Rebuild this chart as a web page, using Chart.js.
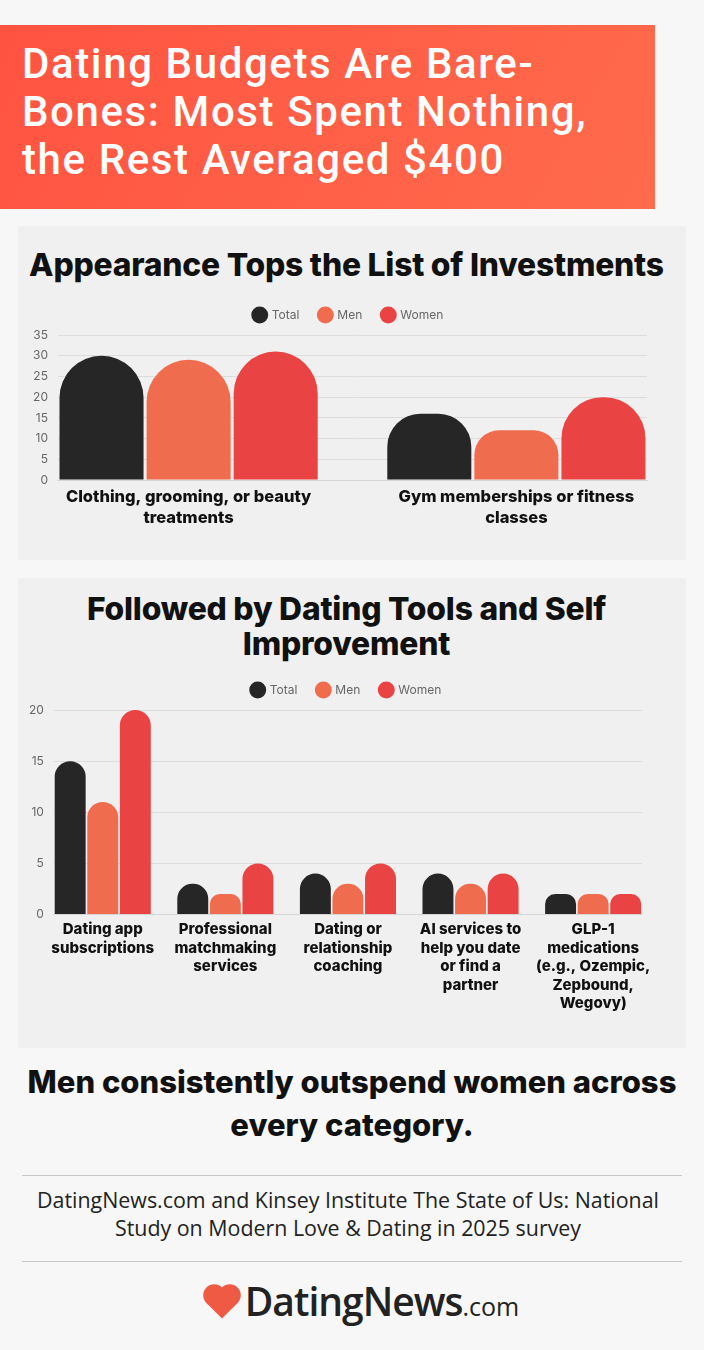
<!DOCTYPE html>
<html>
<head>
<meta charset="utf-8">
<script src="https://cdn.jsdelivr.net/npm/chart.js@4.4.1/dist/chart.umd.min.js"></script>
<style>
  body { margin: 0; width: 704px; height: 1350px; background: #f7f7f7; font-family: Inter, "Noto Sans", sans-serif; position: relative; overflow: hidden; }
  .header { position: absolute; left: 0; top: 25px; width: 655px; height: 184px; background: linear-gradient(120deg, #ff5341, #ff6b4c); }
  .header h1 { margin: 0; padding: 15px 0 0 22px; color: #fff; font-family: Roboto, sans-serif; font-weight: 500; font-size: 42px; line-height: 48px; letter-spacing: 1.6px; }
  .card { position: absolute; left: 18px; width: 668px; background: #f0f0f0; }
  .card h2 { margin: 0; padding-right: 11px; text-align: center; font-family: Inter, sans-serif; font-weight: 800; font-size: 31.8px; color: #111; letter-spacing: -0.2px; }
  .chartbox { position: absolute; left: 0; }
  .note { position: absolute; left: 0; width: 704px; top: 1060px; text-align: center; font-family: Inter, sans-serif; font-weight: 800; font-size: 31px; line-height: 43px; color: #111; }
  .rule { position: absolute; left: 22px; width: 660px; height: 1px; background: #c8c8c8; }
  .source { position: absolute; left: 0; width: 696px; top: 1186px; text-align: center; font-family: "Open Sans", sans-serif; font-size: 21.4px; line-height: 28px; color: #222; }
  .logo { position: absolute; left: 10px; width: 704px; top: 1274px; text-align: center; font-family: "Open Sans", sans-serif; font-size: 39px; font-weight: 600; color: #222; letter-spacing: -1px; }
  .logo small { font-size: 25px; font-weight: 400; letter-spacing: 0; }
  .heart { display: inline-block; width: 22px; height: 22px; background: #ef5a45; transform: rotate(-45deg); vertical-align: middle; margin: 0 12px 0 6px; position: relative; top: -3px; }
  .heart::before, .heart::after { content: ""; position: absolute; width: 22px; height: 22px; border-radius: 50%; background: #ef5a45; }
  .heart::before { top: -11px; left: 0; }
  .heart::after { left: 11px; top: 0; }
</style>
</head>
<body>
<div class="header"><h1>Dating Budgets Are Bare-<br>Bones: Most Spent Nothing,<br>the Rest Averaged $400</h1></div>

<div class="card" style="top:226px;height:334px;">
  <h2 style="padding-top:20px;line-height:38px;">Appearance Tops the List of Investments</h2>
  <div class="chartbox" style="top:63px;width:668px;height:246px;"><canvas id="chart1"></canvas></div>
</div>

<div class="card" style="top:578px;height:470px;">
  <h2 style="padding-top:13px;line-height:35px;">Followed by Dating Tools and Self<br>Improvement</h2>
  <div class="chartbox" style="top:86px;width:668px;height:355px;"><canvas id="chart2"></canvas></div>
</div>

<div class="note">Men consistently outspend women across<br>every category.</div>
<div class="rule" style="top:1175px;"></div>
<div class="source">DatingNews.com and Kinsey Institute The State of Us: National<br>Study on Modern Love &amp; Dating in 2025 survey</div>
<div class="rule" style="top:1261px;"></div>
<div class="logo"><span class="heart"></span>DatingNews<small>.com</small></div>

<script>
const seriesNames = ["Total", "Men", "Women"];
const seriesColors = ["#262626", "#ef6c4e", "#ea4343"];

const investCategories = [
  ["Clothing, grooming, or beauty", "treatments"],
  ["Gym memberships or fitness", "classes"]
];
const investTotal = [30, 16];
const investMen = [29, 12];
const investWomen = [31, 20];
const investTicks = [0, 5, 10, 15, 20, 25, 30, 35];

const toolCategories = [
  ["Dating app", "subscriptions"],
  ["Professional", "matchmaking", "services"],
  ["Dating or", "relationship", "coaching"],
  ["AI services to", "help you date", "or find a", "partner"],
  ["GLP-1", "medications", "(e.g., Ozempic,", "Zepbound,", "Wegovy)"]
];
const toolTotal = [15, 3, 4, 4, 2];
const toolMen = [11, 2, 3, 3, 2];
const toolWomen = [20, 5, 5, 4, 2];
const toolTicks = [0, 5, 10, 15, 20];

// a bit more room between legend and plot
const legendGap = {
  id: "legendGap",
  beforeInit(chart) {
    const fit = chart.legend.fit;
    chart.legend.fit = function () {
      fit.bind(chart.legend)();
      this.height += 4;
    };
  }
};

// groups sit flush with the ends of the grid, so x is a linear index axis
function makeChart(id, labels, values, ticks, catPct, barPct, padL, rightW, labelFont, lineH) {
  return new Chart(document.getElementById(id), {
    type: "bar",
    data: {
      datasets: values.map((v, i) => ({
        label: seriesNames[i],
        data: v.map((y, x) => ({ x: x, y: y })),
        backgroundColor: seriesColors[i],
        borderRadius: { topLeft: 200, topRight: 200, bottomLeft: 0, bottomRight: 0 },
        borderSkipped: false,
        categoryPercentage: catPct,
        barPercentage: barPct
      }))
    },
    plugins: [legendGap],
    options: {
      responsive: true,
      maintainAspectRatio: false,
      animation: false,
      layout: { padding: { left: padL, right: 12, top: 0, bottom: 0 } },
      plugins: {
        tooltip: { enabled: false },
        legend: {
          position: "top",
          labels: {
            usePointStyle: true,
            pointStyle: "circle",
            boxWidth: 12,
            boxHeight: 12,
            padding: 20,
            color: "#666",
            font: { family: "Inter, sans-serif", size: 12 }
          }
        }
      },
      scales: {
        x: {
          type: "linear",
          offset: false,
          min: -catPct / 2,
          max: labels.length - 1 + catPct / 2,
          afterBuildTicks: axis => { axis.ticks = labels.map((_, i) => ({ value: i })); },
          grid: { display: false, drawTicks: false, offset: false },
          border: { display: true, color: "#d6d6d6" },
          ticks: {
            color: "#111",
            maxRotation: 0,
            autoSkip: false,
            padding: 6,
            callback: v => labels[v],
            font: { family: "Inter, sans-serif", weight: "800", size: labelFont, lineHeight: lineH }
          }
        },
        y: {
          min: 0,
          max: ticks[ticks.length - 1],
          afterBuildTicks: axis => { axis.ticks = ticks.map(t => ({ value: t })); },
          grid: { color: "#dcdcdc", drawTicks: false },
          border: { display: false },
          ticks: {
            color: "#666",
            padding: 10,
            font: { family: "Inter, sans-serif", size: 12 }
          }
        },
        yRight: {
          position: "right",
          grid: { display: false, drawTicks: false },
          border: { display: false },
          ticks: { display: false },
          afterFit: axis => { axis.width = rightW; }
        }
      }
    }
  });
}

makeChart("chart1", investCategories, [investTotal, investMen, investWomen], investTicks,
  0.797, 0.965, 5, 27, 16.5, 1.3);
makeChart("chart2", toolCategories, [toolTotal, toolMen, toolWomen], toolTicks,
  0.797, 0.95, 1, 32, 15, 1.233);
</script>
</body>
</html>
